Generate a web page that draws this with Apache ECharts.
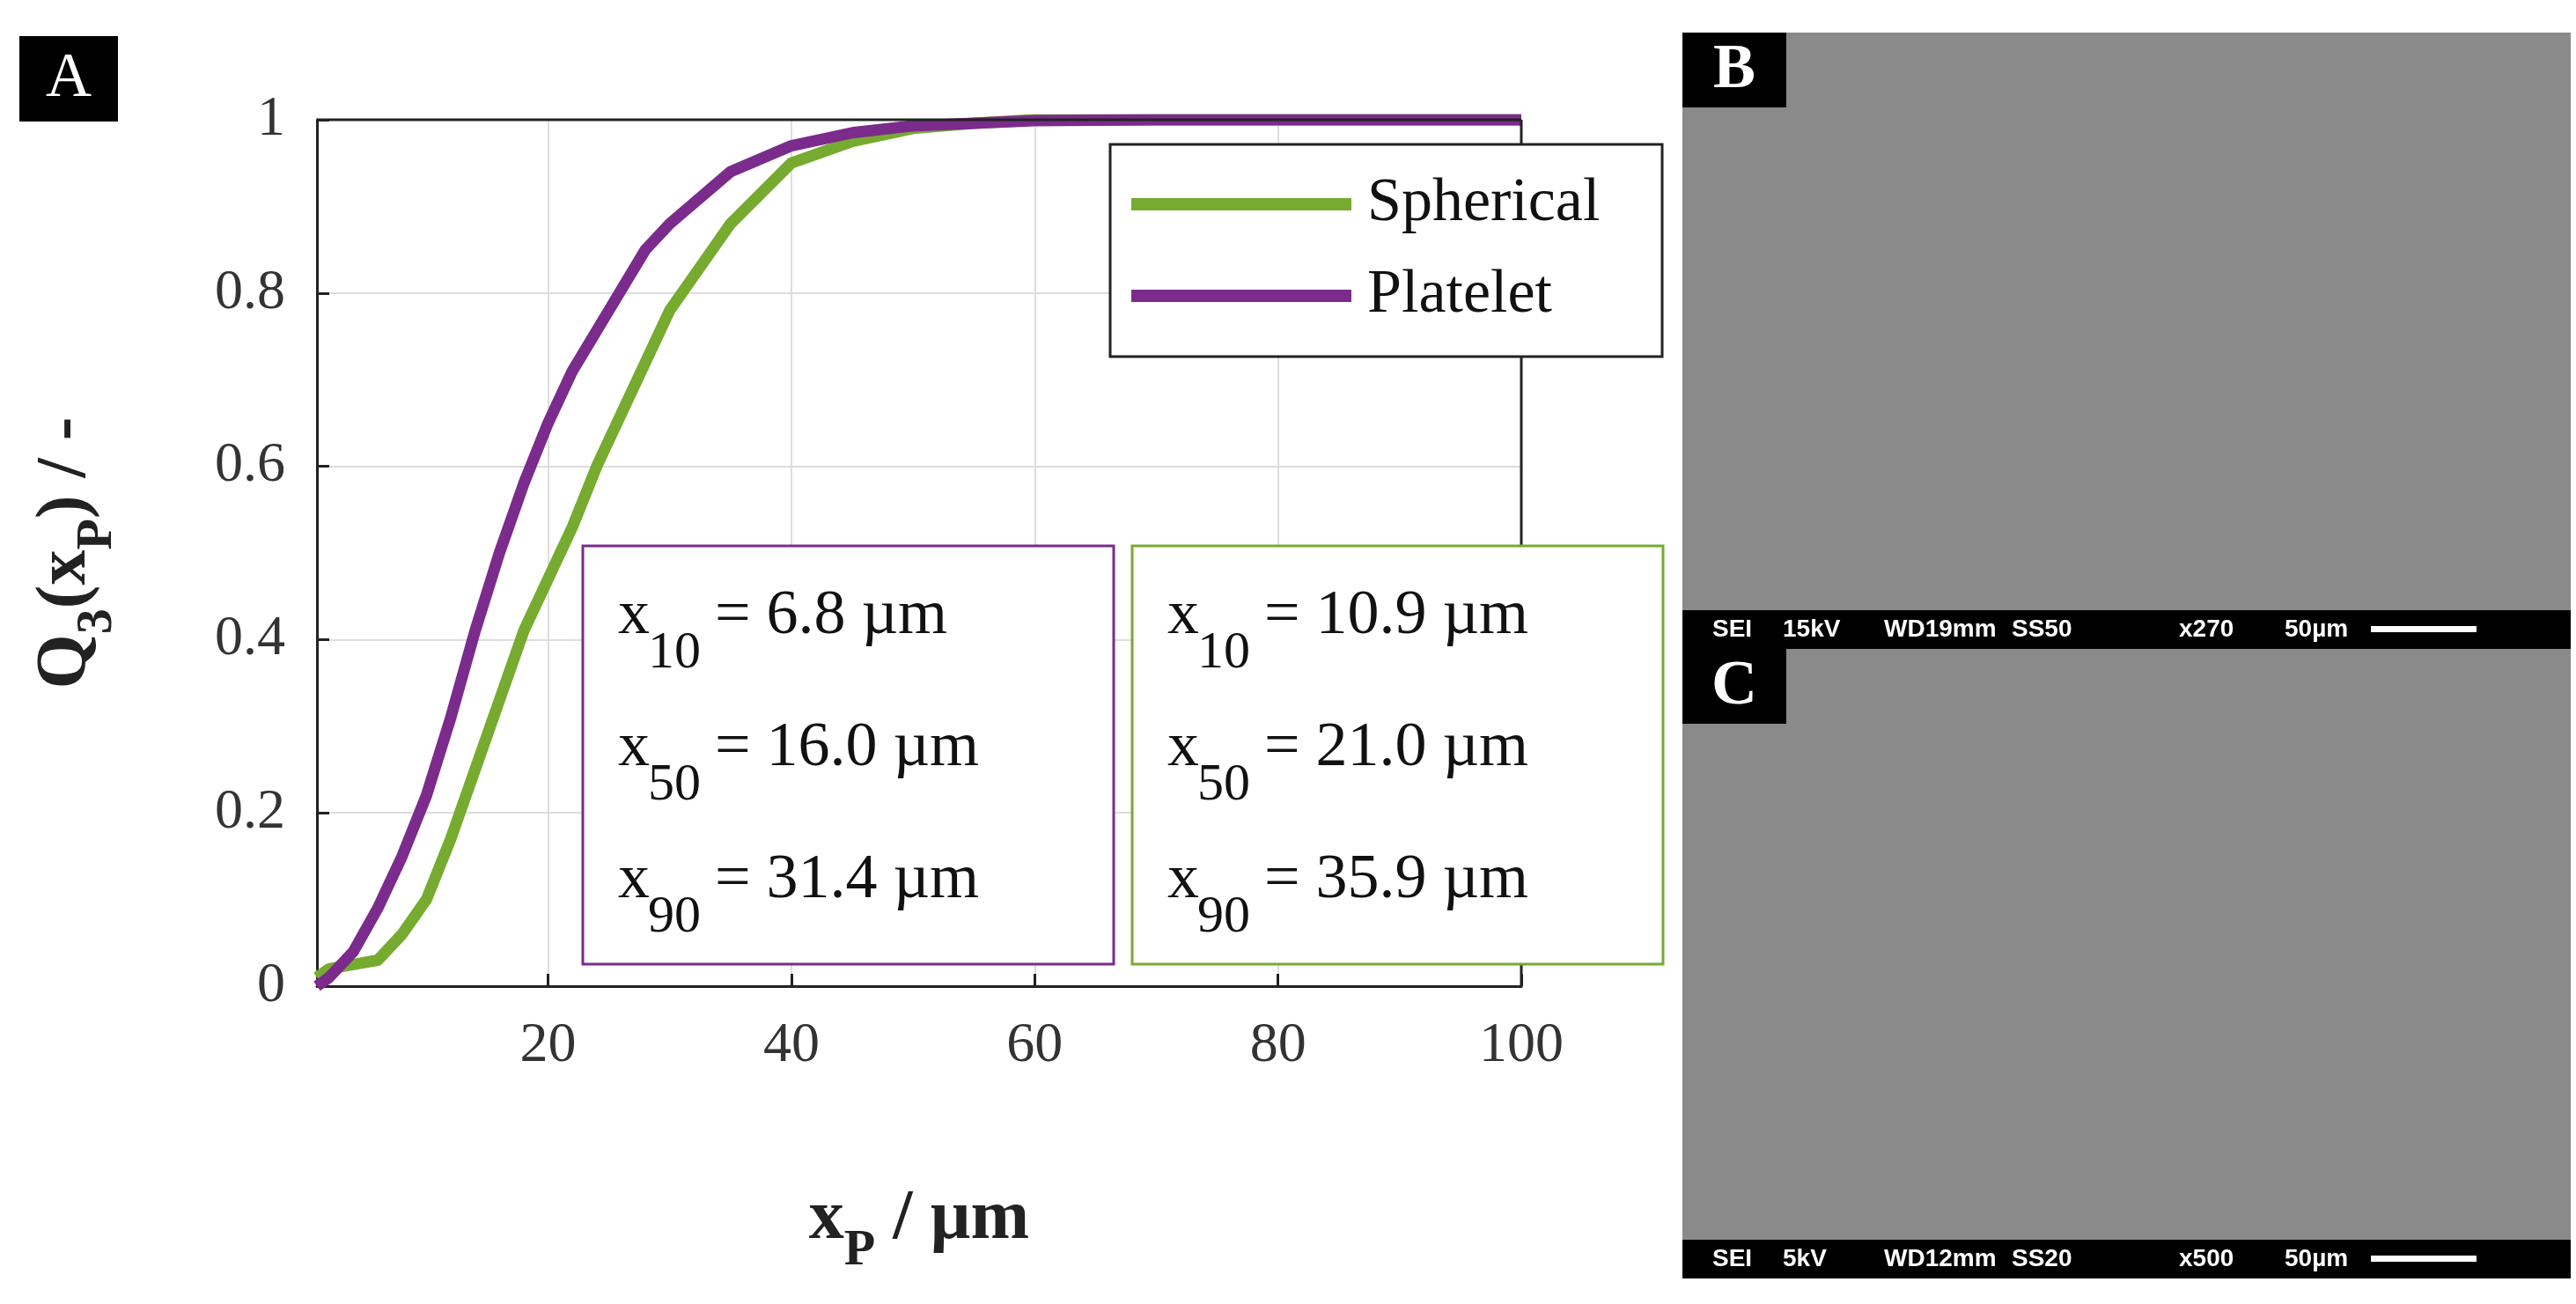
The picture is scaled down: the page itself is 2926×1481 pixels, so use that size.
<!DOCTYPE html>
<html><head><meta charset="utf-8">
<script src="https://cdn.jsdelivr.net/npm/echarts@6/dist/echarts.min.js"></script>
<style>html,body{margin:0;background:#fff}#main{width:2926px;height:1481px}</style>
</head><body><div id="main"></div>
<script>
var platX = [1, 2, 4, 6, 8, 10, 12, 14, 16, 18, 20, 22, 25, 28, 30, 35, 40, 45, 50, 60, 70, 100];
var platY = [0, 0.01, 0.04, 0.09, 0.15, 0.22, 0.31, 0.41, 0.50, 0.58, 0.65, 0.71, 0.78, 0.85, 0.88, 0.94, 0.97, 0.985, 0.993, 0.999, 1, 1];
var sphX = [1, 2, 4, 6, 8, 10, 12, 14, 16, 18, 20, 22, 24, 26, 28, 30, 32, 35, 40, 45, 50, 55, 60, 100];
var sphY = [0.01, 0.02, 0.025, 0.03, 0.06, 0.10, 0.17, 0.25, 0.33, 0.41, 0.47, 0.53, 0.60, 0.66, 0.72, 0.78, 0.82, 0.88, 0.95, 0.975, 0.99, 0.996, 1, 1];
var xTicks = [20, 40, 60, 80, 100];
var platStats = [['10', '6.8'], ['50', '16.0'], ['90', '31.4']];
var sphStats = [['10', '10.9'], ['50', '21.0'], ['90', '35.9']];
var semInfoB = ['SEI', '15kV', 'WD19mm', 'SS50', 'x270', '50µm'];
var semInfoC = ['SEI', '5kV', 'WD12mm', 'SS20', 'x500', '50µm'];
var GREEN = '#76ab2f', PURPLE = '#7b2b8c';
var FONT = 'Liberation Serif';

function pairs(xs, ys) { return xs.map(function (x, i) { return [x, ys[i]]; }); }
function statBox(stats, left, color) {
  var els = [{ type: 'rect', shape: { x: left, y: 620, width: 603, height: 475 }, style: { fill: '#fff', stroke: color, lineWidth: 3 }, z: 10 }];
  stats.forEach(function (s, i) {
    var y = 700 + i * 150;
    els.push({ type: 'text', x: left + 40, y: y, z: 11, style: { text: 'x', fontFamily: FONT, fontSize: 72, fill: '#111', verticalAlign: 'middle' } });
    els.push({ type: 'text', x: left + 74, y: y + 42, z: 11, style: { text: s[0], fontFamily: FONT, fontSize: 60, fill: '#111', verticalAlign: 'middle' } });
    els.push({ type: 'text', x: left + 150, y: y, z: 11, style: { text: '= ' + s[1] + ' µm', fontFamily: FONT, fontSize: 72, fill: '#111', verticalAlign: 'middle' } });
  });
  return els;
}
var infoX = [1945, 2025, 2140, 2285, 2475, 2595];
function semPanel(y, h, label, info) {
  var els = [
    { type: 'rect', shape: { x: 1911, y: y, width: 1009, height: h }, style: { fill: '#8a8a8a' } },
    { type: 'rect', shape: { x: 1911, y: y + h - 44, width: 1009, height: 44 }, style: { fill: '#000' } },
    { type: 'rect', shape: { x: 1911, y: y, width: 118, height: 85 }, style: { fill: '#000' } },
    { type: 'text', x: 1970, y: y + 43, style: { text: label, fontFamily: FONT, fontWeight: 'bold', fontSize: 72, fill: '#fff', align: 'center', verticalAlign: 'middle' } },
    { type: 'rect', shape: { x: 2693, y: y + h - 26, width: 120, height: 7 }, style: { fill: '#fff' } }
  ];
  info.forEach(function (t, i) {
    els.push({ type: 'text', x: infoX[i], y: y + h - 22, style: { text: t, fontFamily: 'Liberation Sans', fontWeight: 'bold', fontSize: 28, fill: '#fff', verticalAlign: 'middle' } });
  });
  return els;
}

var chart = echarts.init(document.getElementById('main'));
var gfx = [
  { type: 'rect', shape: { x: 22, y: 41, width: 112, height: 97 }, style: { fill: '#000' } },
  { type: 'text', x: 78, y: 90, style: { text: 'A', fontFamily: FONT, fontSize: 72, fill: '#fff', align: 'center', verticalAlign: 'middle' } },
  { type: 'rect', shape: { x: 1261, y: 164, width: 627, height: 241 }, style: { fill: '#fff', stroke: '#222', lineWidth: 3 }, z: 10 },
  { type: 'line', shape: { x1: 1285, y1: 232, x2: 1535, y2: 232 }, style: { stroke: GREEN, lineWidth: 14 }, z: 11 },
  { type: 'line', shape: { x1: 1285, y1: 336, x2: 1535, y2: 336 }, style: { stroke: PURPLE, lineWidth: 14 }, z: 11 },
  { type: 'text', x: 1553, y: 232, z: 11, style: { text: 'Spherical', fontFamily: FONT, fontSize: 70, fill: '#111', verticalAlign: 'middle' } },
  { type: 'text', x: 1553, y: 336, z: 11, style: { text: 'Platelet', fontFamily: FONT, fontSize: 70, fill: '#111', verticalAlign: 'middle' } },
  { type: 'line', shape: { x1: 360, y1: 136, x2: 1728, y2: 136 }, style: { stroke: '#222', lineWidth: 3 }, z: 5 },
  { type: 'line', shape: { x1: 1728, y1: 136, x2: 1728, y2: 1120 }, style: { stroke: '#222', lineWidth: 3 }, z: 5 }
].concat(statBox(platStats, 662, PURPLE), statBox(sphStats, 1286, GREEN),
  semPanel(37, 700, 'B', semInfoB), semPanel(737, 715, 'C', semInfoC));

var titleRich = {
  b: { fontFamily: FONT, fontWeight: 'bold', fontSize: 80, color: '#222', lineHeight: 130, verticalAlign: 'middle' },
  s: { fontFamily: FONT, fontWeight: 'bold', fontSize: 58, color: '#222', lineHeight: 130, verticalAlign: 'bottom' }
};
chart.setOption({
  animation: false,
  grid: { left: 360, right: 2926 - 1728, top: 136, bottom: 1481 - 1120 },
  xAxis: {
    type: 'value', min: 1, max: 100,
    name: '{b|x}{s|P}{b| / µm}', nameLocation: 'middle', nameGap: 200,
    nameTextStyle: { rich: titleRich },
    axisLine: { lineStyle: { color: '#222', width: 3 } },
    axisTick: { inside: true, length: 14, lineStyle: { color: '#222', width: 3 }, customValues: xTicks },
    axisLabel: { fontFamily: FONT, fontSize: 64, color: '#333', margin: 36, customValues: xTicks },
    splitLine: { show: true, lineStyle: { color: '#ddd', width: 2 } }
  },
  yAxis: {
    type: 'value', min: 0, max: 1, interval: 0.2,
    name: '{b|Q}{s|3}{b|(x}{s|P}{b|) / -}', nameLocation: 'middle', nameGap: 220,
    nameTextStyle: { rich: titleRich },
    axisLine: { lineStyle: { color: '#222', width: 3 } },
    axisTick: { inside: true, length: 14, lineStyle: { color: '#222', width: 3 } },
    axisLabel: { fontFamily: FONT, fontSize: 64, color: '#333', margin: 36, formatter: function (v) { return +v.toFixed(1); } },
    splitLine: { show: true, lineStyle: { color: '#ddd', width: 2 } }
  },
  graphic: gfx,
  series: [
    { type: 'line', data: pairs(sphX, sphY), smooth: false, showSymbol: false, lineStyle: { color: GREEN, width: 13, join: 'round' } },
    { type: 'line', data: pairs(platX, platY), smooth: false, showSymbol: false, lineStyle: { color: PURPLE, width: 13, join: 'round' } }
  ]
});
</script></body></html>
